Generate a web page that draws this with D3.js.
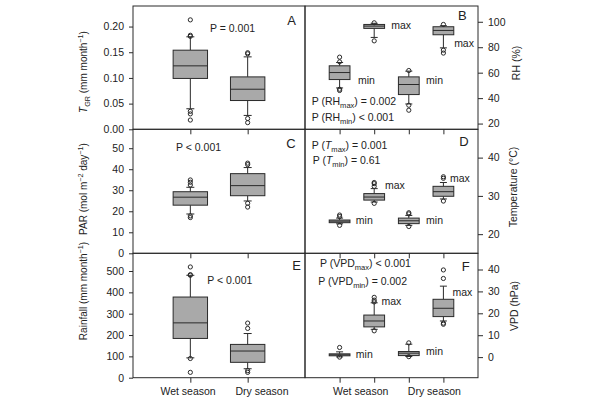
<!DOCTYPE html>
<html>
<head>
<meta charset="utf-8">
<script src="https://cdn.jsdelivr.net/npm/d3@7"></script>
<style>
  body { margin: 0; background: #fff; }
  svg text { font-family: Arial, "Liberation Sans", sans-serif; fill: #222; }
</style>
</head>
<body>
<div class="canvas"></div>
<script>
// box stats are [lower whisker, q1, median, q3, upper whisker]
const seasons = ['Wet season', 'Dry season'];

const tgrBoxes = [[0.040, 0.099, 0.1235, 0.154, 0.180], [0.027, 0.056, 0.078, 0.102, 0.141]];
const tgrOutliers = [[0.213, 0.183, 0.181, 0.035, 0.030, 0.018], [0.149, 0.147, 0.021, 0.013]];
const tgrTicks = [0, 0.05, 0.10, 0.15, 0.20];

const parBoxes = [[18.7, 22.9, 26.7, 29.3, 31.4], [24.9, 27.4, 32.2, 37.9, 40.8]];
const parOutliers = [[32.5, 33.8, 34.9, 17.8, 17.0], [42.9, 42.2, 23.8, 22.0]];
const parTicks = [0, 10, 20, 30, 40, 50];

const rainBoxes = [[93, 184, 257, 378, 480], [42, 72, 125, 156, 207]];
const rainOutliers = [[519, 483, 480, 90, 25], [256, 231, 33, 25]];
const rainTicks = [0, 100, 200, 300, 400, 500];

// right column boxes: wet min, wet max, dry min, dry max
const extremes = ['min', 'max', 'min', 'max'];

const rhBoxes = [[48.0, 54.6, 60.1, 65.4, 68.0], [87.7, 94.8, 96.6, 97.9, 98.8], [35.4, 42.8, 50.7, 56.7, 61.2], [79.5, 89.8, 93.2, 96.1, 96.9]];
const rhOutliers = [[72.2, 68.5, 47, 46], [99.2, 85], [61.7, 34.4, 30.5], [97.9, 77.7, 75.4]];
const rhTicks = [20, 40, 60, 80, 100];

const tempBoxes = [[22.7, 23.0, 23.4, 23.7, 24.2], [28.4, 28.9, 29.7, 30.6, 31.9], [22.3, 22.75, 23.5, 24.2, 24.9], [29.2, 29.9, 31.1, 32.5, 33.5]];
const tempOutliers = [[25.0, 24.6, 22.3], [33.5, 33.2, 32.5, 28.05], [25.6, 25.3, 22.0], [35.0, 34.6, 28.65]];
const tempTicks = [20, 30, 40];

const vpdBoxes = [[0.1, 0.6, 1.05, 1.5, 2.4], [12.7, 13.8, 16.5, 19.2, 24.8], [0.3, 0.7, 1.8, 2.55, 5.9], [16.5, 18.5, 22.3, 26.4, 32.4]];
const vpdOutliers = [[4.4, 0.0], [27.3, 26.0, 25.2, 12.0], [6.5, 0.2], [39.8, 35.9, 15.5, 15.0]];
const vpdTicks = [0, 10, 20, 30, 40];

const width = 603, height = 403;
const rows = [6, 129.3, 253.3, 377.7];
const ink = '#2a2a2a';

const svg = d3.select('.canvas')
    .append('svg')
    .attr('width', width)
    .attr('height', height)
;

const xLeft = d3.scaleLinear().domain([0, 3]).range([133, 305]);
const xRight = d3.scaleLinear().domain([0, 5]).range([305, 478]);

// rich text: segments {t, i (italic), sub, sup}
const richText = (sel, segs, size) => {
    let shift = 0;
    segs.forEach(s => {
        const target = s.sub ? 3 : s.sup ? -4 : 0;
        sel.append('tspan')
            .attr('dy', target - shift)
            .attr('font-size', (s.sub || s.sup) ? size * 0.72 : size)
            .attr('font-style', s.i ? 'italic' : null)
            .text(s.t);
        shift = target;
    });
};

const panels = [
    { col: 0, row: 0, boxes: tgrBoxes, outliers: tgrOutliers, ticks: tgrTicks, domain: [0, 0.24], fmt: d3.format('.2f'),
      letter: 'A', letterAt: [158.7, 18.6],
      notes: [{ at: [77, 25.7], segs: [{ t: 'P = 0.001' }] }],
      title: [{ t: 'T', i: true }, { t: 'GR', sub: true }, { t: ' (mm month' }, { t: '\u22121', sup: true }, { t: ')' }], titleAt: [87, 72] },
    { col: 0, row: 1, boxes: parBoxes, outliers: parOutliers, ticks: parTicks, domain: [0, 59], fmt: d3.format('d'),
      letter: 'C', letterAt: [158, 18.7],
      notes: [{ at: [43, 22.1], segs: [{ t: 'P < 0.001' }] }],
      title: [{ t: 'PAR (mol m' }, { t: '\u22122', sup: true }, { t: ' day' }, { t: '\u22121', sup: true }, { t: ')' }], titleAt: [87, 189] },
    { col: 0, row: 2, boxes: rainBoxes, outliers: rainOutliers, ticks: rainTicks, domain: [0, 583], fmt: d3.format('d'),
      letter: 'E', letterAt: [163.7, 17],
      notes: [{ at: [74.3, 31.1], segs: [{ t: 'P < 0.001' }] }],
      title: [{ t: 'Rainfall (mm month' }, { t: '\u22121', sup: true }, { t: ')' }], titleAt: [87, 291] },
    { col: 1, row: 0, boxes: rhBoxes, outliers: rhOutliers, ticks: rhTicks, domain: [15.5, 112.4], fmt: d3.format('d'),
      letter: 'B', letterAt: [157.3, 14.3],
      notes: [
          { at: [6.7, 99.4], segs: [{ t: 'P (RH' }, { t: 'max', sub: true }, { t: ') = 0.002' }] },
          { at: [6.7, 115], segs: [{ t: 'P (RH' }, { t: 'min', sub: true }, { t: ') < 0.001' }] }
      ],
      tags: [[1.53, 53.7], [2.49, 97.4], [3.5, 54], [4.31, 83]],
      title: [{ t: 'RH (%)' }], titleAt: [520, 63] },
    { col: 1, row: 1, boxes: tempBoxes, outliers: tempOutliers, ticks: tempTicks, domain: [15, 47.4], fmt: d3.format('d'),
      letter: 'D', letterAt: [159, 17],
      notes: [
          { at: [6.7, 20.1], segs: [{ t: 'P (' }, { t: 'T', i: true }, { t: 'max', sub: true }, { t: ') = 0.001' }] },
          { at: [7.7, 35.1], segs: [{ t: 'P (' }, { t: 'T', i: true }, { t: 'min', sub: true }, { t: ') = 0.61' }] }
      ],
      tags: [[1.47, 23.5], [2.31, 32.8], [3.5, 23.5], [4.19, 34.5]],
      title: [{ t: 'Temperature (\u00B0C)' }], titleAt: [517, 187] },
    { col: 1, row: 2, boxes: vpdBoxes, outliers: vpdOutliers, ticks: vpdTicks, domain: [-9.4, 47.4], fmt: d3.format('d'),
      letter: 'F', letterAt: [160.7, 18],
      notes: [
          { at: [15, 13.7], segs: [{ t: 'P (VPD' }, { t: 'max', sub: true }, { t: ') < 0.001' }] },
          { at: [13.3, 32.1], segs: [{ t: 'P (VPD' }, { t: 'min', sub: true }, { t: ') = 0.002' }] }
      ],
      tags: [[1.47, 1.4], [2.21, 25.7], [3.5, 2.5], [4.26, 29.8]],
      title: [{ t: 'VPD (hPa)' }], titleAt: [518, 306] }
];

const drawPanel = (p) => {
    const x = p.col === 0 ? xLeft : xRight;
    const [x0, x1] = x.range();
    const y0 = rows[p.row], y1 = rows[p.row + 1];
    const y = d3.scaleLinear().domain(p.domain).range([y1, y0]);
    const unit = x(1) - x(0);
    const boxW = unit * 0.6;
    const capW = p.col === 0 ? 8 : 7;

    const g = svg.append('g');

    // axes
    const yAxis = p.col === 0
        ? d3.axisLeft(y).tickSize(4)
        : d3.axisRight(y).tickSize(5);
    g.append('g')
        .attr('transform', `translate(${p.col === 0 ? x0 : x1},0)`)
        .call(yAxis.tickValues(p.ticks).tickPadding(5).tickFormat(p.fmt))
        .call(a => a.select('.domain').remove())
        .call(a => a.selectAll('line').attr('stroke', ink))
        .call(a => a.selectAll('text').attr('font-size', 10.5).attr('fill', '#222').attr('font-family', null))
    ;

    g.append('g')
        .attr('transform', `translate(0,${y1})`)
        .call(d3.axisBottom(x).tickValues(p.boxes.map((d, i) => i + 1)).tickSize(5).tickFormat(''))
        .call(a => a.select('.domain').remove())
        .call(a => a.selectAll('line').attr('stroke', ink))
    ;

    // boxes
    const box = g.selectAll('g.box')
        .data(p.boxes)
        .enter()
        .append('g')
        .attr('class', 'box')
        .attr('transform', (d, i) => `translate(${x(i + 1)},0)`)
    ;

    box.append('line')
        .attr('y1', d => y(d[0])).attr('y2', d => y(d[1]))
        .attr('stroke', ink);
    box.append('line')
        .attr('y1', d => y(d[3])).attr('y2', d => y(d[4]))
        .attr('stroke', ink);
    box.append('line')
        .attr('x1', -capW / 2).attr('x2', capW / 2)
        .attr('y1', d => y(d[0])).attr('y2', d => y(d[0]))
        .attr('stroke', ink);
    box.append('line')
        .attr('x1', -capW / 2).attr('x2', capW / 2)
        .attr('y1', d => y(d[4])).attr('y2', d => y(d[4]))
        .attr('stroke', ink);
    box.append('rect')
        .attr('x', -boxW / 2)
        .attr('width', boxW)
        .attr('y', d => y(d[3]))
        .attr('height', d => y(d[1]) - y(d[3]))
        .attr('fill', '#a9a9a9')
        .attr('stroke', ink);
    box.append('line')
        .attr('x1', -boxW / 2).attr('x2', boxW / 2)
        .attr('y1', d => y(d[2])).attr('y2', d => y(d[2]))
        .attr('stroke', ink);

    // outliers
    box.each(function (d, i) {
        d3.select(this).selectAll('circle')
            .data(p.outliers[i])
            .enter()
            .append('circle')
            .attr('cy', v => y(v))
            .attr('r', 2.1)
            .attr('fill', 'none')
            .attr('stroke', ink)
            .attr('stroke-width', 1);
    });

    // min / max tags
    if (p.tags) {
        g.selectAll('text.tag')
            .data(p.tags)
            .enter()
            .append('text')
            .attr('class', 'tag')
            .attr('x', d => x(d[0]))
            .attr('y', d => y(d[1]))
            .attr('dy', '0.35em')
            .attr('font-size', 10.5)
            .text((d, i) => extremes[i]);
    }

    // frame
    g.append('rect')
        .attr('x', x0).attr('y', y0)
        .attr('width', x1 - x0).attr('height', y1 - y0)
        .attr('fill', 'none')
        .attr('stroke', ink)
        .attr('stroke-width', 1);

    // letter and p-values
    g.append('text')
        .attr('x', x0 + p.letterAt[0])
        .attr('y', y0 + p.letterAt[1])
        .attr('text-anchor', 'middle')
        .attr('font-size', 13)
        .text(p.letter);

    p.notes.forEach(n => {
        const t = g.append('text')
            .attr('x', x0 + n.at[0])
            .attr('y', y0 + n.at[1]);
        richText(t, n.segs, 10.5);
    });

    // axis title
    const title = svg.append('text')
        .attr('transform', `translate(${p.titleAt[0]},${p.titleAt[1]}) rotate(-90)`)
        .attr('text-anchor', 'middle')
        .attr('dy', '0.35em');
    richText(title, p.title, p.col === 0 ? 10 : 10.5);

    // season labels under the bottom row
    if (p.row === 2) {
        const labelAt = p.col === 0 ? [0.96, 2.25] : [1.61, 3.74];
        g.selectAll('text.season')
            .data(seasons)
            .enter()
            .append('text')
            .attr('class', 'season')
            .attr('x', (d, i) => x(labelAt[i]))
            .attr('y', 395)
            .attr('text-anchor', 'middle')
            .attr('font-size', 10.5)
            .text(d => d);
    }
};

panels.forEach(drawPanel);
</script>
</body>
</html>
